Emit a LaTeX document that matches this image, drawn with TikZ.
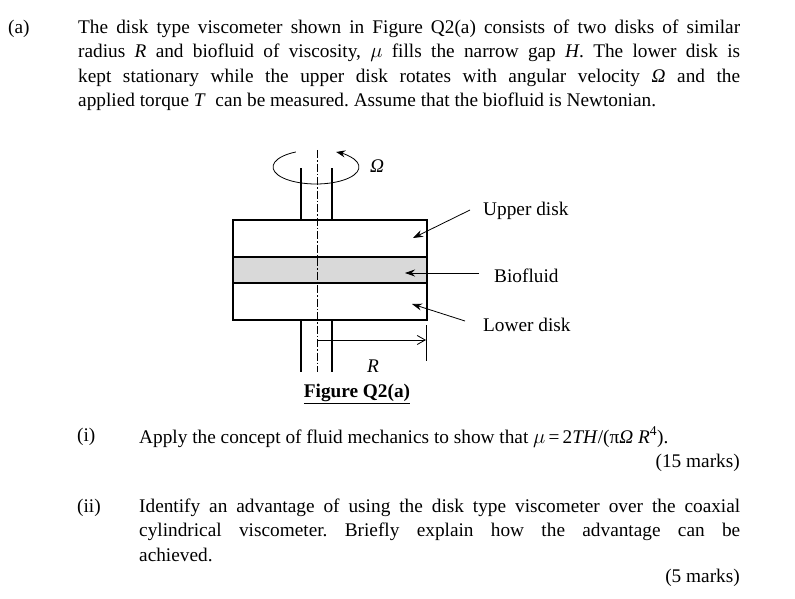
\documentclass[tikz,border=0pt]{standalone}
\usepackage{fontspec}
\setmainfont{Liberation Serif}
\usetikzlibrary{arrows.meta,calc}
\frenchspacing
\begin{document}
\begin{tikzpicture}[x=1pt,y=-1pt,font=\fontsize{19.3}{23}\selectfont,
  txt/.style={anchor=west,inner sep=0pt},
  lbl/.style={anchor=west,inner sep=0pt},
  ptr/.style={-{Stealth[length=10pt,width=7pt]},line width=0.8pt},
  body/.style={draw,line width=1.2pt}]
\useasboundingbox (0,0) rectangle (795,599);
\node[txt] (a) at (8,29) {(a)};
\node[txt] (l1) at (78,29) {\makebox[662pt][s]{The disk type viscometer shown in Figure Q2(a) consists of two disks of similar}};
\node[txt] (l2) at (78,53) {\makebox[662pt][s]{radius \textit{R} and biofluid of viscosity, $\mu$\ fills the narrow gap \textit{H}. The lower disk is}};
\node[txt] (l3) at (78,78) {\makebox[662pt][s]{kept stationary while the upper disk rotates with angular velocity \textit{Ω} and the}};
\node[txt] (l4) at (78,102) {applied torque \textit{T} \ can be measured. Assume that the biofluid is Newtonian.};
% figure
\draw[body] (301,168) -- (301,220) (332,168) -- (332,220);
\draw[body] (301,320) -- (301,372) (332,320) -- (332,372);
\draw[body] (233,220) rectangle (427,257);
\draw[body,fill=gray!30] (233,257) rectangle (427,283);
\draw[body] (233,283) rectangle (427,320);
\draw[line width=0.6pt,dash pattern=on 8pt off 2pt on 1.5pt off 2pt] (317,150) -- (317,372);
\coordinate (ec) at (316,167);
\draw[line width=0.8pt,-{Stealth[length=9pt,width=7pt]}] ($(ec)+(242:43 and 17)$) arc[start angle=242,end angle=-62,x radius=43,y radius=17];
\node[txt] (om) at (370,166) {\textit{Ω}};
\draw[line width=0.8pt] (426,325) -- (426,361);
\coordinate (rs) at (317,340);
\coordinate (re) at (426,340);
\draw[line width=0.8pt,-{Straight Barb[length=8pt,width=9pt]}] (rs) -- (re);
\node[txt] (R) at (367,366) {\textit{R}};
\node (fig) at (357,394) {\textbf{\underline{Figure Q2(a)}}};
\node[lbl] (up) at (483,211) {Upper disk};
\node[lbl] (bio) at (494,276) {Biofluid};
\node[lbl] (low) at (483,325) {Lower disk};
\coordinate (u1) at (470,210); \coordinate (u2) at (413,238);
\coordinate (b1) at (479,273); \coordinate (b2) at (405,273);
\coordinate (d1) at (465,321); \coordinate (d2) at (412,304);
\draw[ptr] (u1) -- (u2);
\draw[ptr] (b1) -- (b2);
\draw[ptr] (d1) -- (d2);
% questions
\node[txt] (i) at (77,437) {(i)};
\node[txt] (qi) at (139,437) {Apply the concept of fluid mechanics to show that $\mu$\,=\,2\textit{TH}/(π\textit{Ω R}\textsuperscript{4}).};
\node[anchor=east,inner sep=0pt] (m1) at (740,463) {(15 marks)};
\node[txt] (ii) at (77,508) {(ii)};
\node[txt] (q1) at (139,508) {\makebox[601pt][s]{Identify an advantage of using the disk type viscometer over the coaxial}};
\node[txt] (q2) at (139,532) {\makebox[601pt][s]{cylindrical viscometer. Briefly explain how the advantage can be}};
\node[txt] (q3) at (139,555) {achieved.};
\node[anchor=east,inner sep=0pt] (m2) at (740,578) {(5 marks)};
\end{tikzpicture}
\end{document}
